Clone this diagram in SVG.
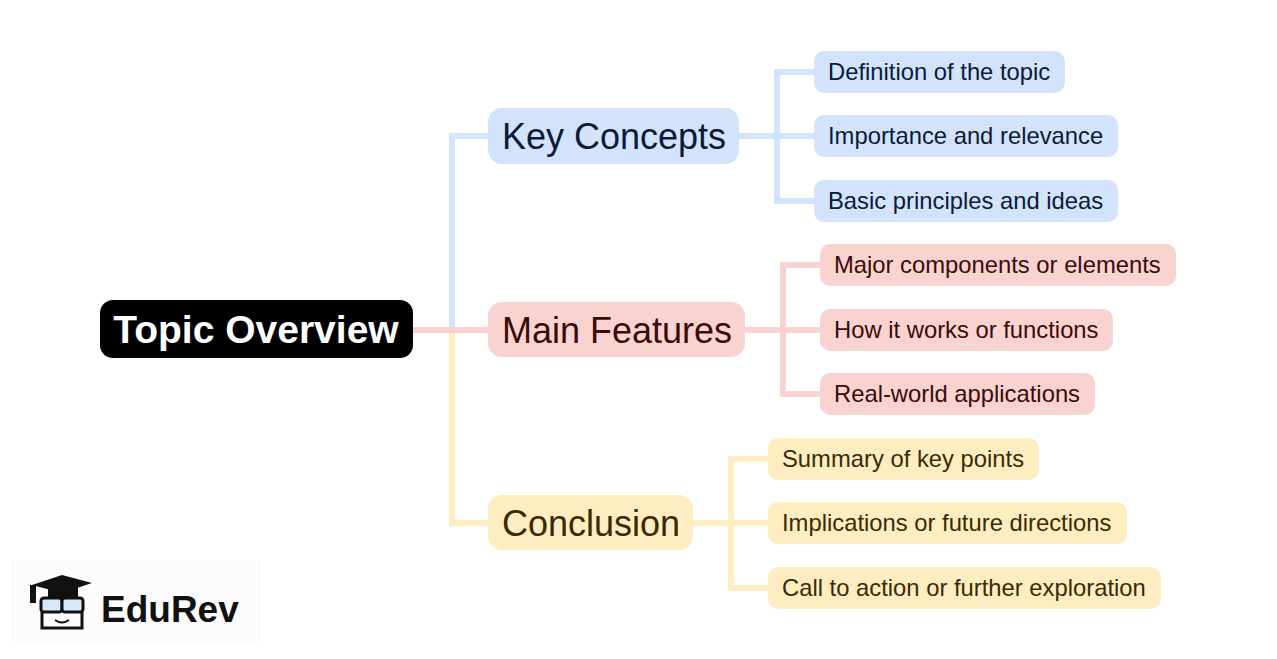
<svg xmlns="http://www.w3.org/2000/svg" width="1277" height="659" viewBox="0 0 1277 659">
<style>
.b{fill:#D3E3FC}.r{fill:#F9D3D0}.y{fill:#FDEDC0}
.lb{stroke:#D3E3FC}.lr{stroke:#F9D3D0}.ly{stroke:#FDEDC0}
line,polyline{stroke-width:6;fill:none}
text{font-family:"Liberation Sans",Arial,sans-serif}
.m{font-size:36px;text-anchor:middle}
.l{font-size:23.8px}
.tb{fill:#0B1A3A}.tr{fill:#3A0B0B}.ty{fill:#3A2A05}
</style>
<rect width="1277" height="659" fill="#fff"/>
<g id="connectors">
<polyline class="lb" points="488,136 452,136 452,330"/>
<polyline class="ly" points="452,330 452,523 488,523"/>
<line class="lr" x1="413" y1="330" x2="488" y2="330"/>
<polyline class="lb" points="814,72 777,72 777,201 814,201"/>
<line class="lb" x1="739" y1="136" x2="814" y2="136"/>
<polyline class="lr" points="820,265 783,265 783,394 820,394"/>
<line class="lr" x1="745" y1="330" x2="820" y2="330"/>
<polyline class="ly" points="768,459 731,459 731,588 768,588"/>
<line class="ly" x1="693" y1="523" x2="768" y2="523"/>
</g>
<g id="root"><rect x="100" y="300" width="313" height="58" rx="13" fill="#000"/><text x="256" y="343" font-size="39" font-weight="bold" fill="#fff" text-anchor="middle">Topic Overview</text></g>
<g id="key"><rect class="b" x="488" y="108" width="251" height="56" rx="14"/><text class="m tb" x="614" y="149">Key Concepts</text></g>
<g id="main"><rect class="r" x="488" y="302" width="257" height="55" rx="14"/><text class="m tr" x="617" y="343">Main Features</text></g>
<g id="concl"><rect class="y" x="488" y="495" width="205" height="55" rx="14"/><text class="m ty" x="591" y="536">Conclusion</text></g>
<g id="k1"><rect class="b" x="814" y="51" width="251" height="42" rx="10"/><text class="l tb" x="828" y="80">Definition of the topic</text></g>
<g id="k2"><rect class="b" x="814" y="115" width="304" height="42" rx="10"/><text class="l tb" x="828" y="144">Importance and relevance</text></g>
<g id="k3"><rect class="b" x="814" y="180" width="304" height="42" rx="10"/><text class="l tb" x="828" y="209">Basic principles and ideas</text></g>
<g id="m1"><rect class="r" x="820" y="244" width="356" height="42" rx="10"/><text class="l tr" x="834" y="273">Major components or elements</text></g>
<g id="m2"><rect class="r" x="820" y="309" width="293" height="42" rx="10"/><text class="l tr" x="834" y="338">How it works or functions</text></g>
<g id="m3"><rect class="r" x="820" y="373" width="275" height="42" rx="10"/><text class="l tr" x="834" y="402">Real-world applications</text></g>
<g id="c1"><rect class="y" x="768" y="438" width="271" height="42" rx="10"/><text class="l ty" x="782" y="467">Summary of key points</text></g>
<g id="c2"><rect class="y" x="768" y="502" width="359" height="42" rx="10"/><text class="l ty" x="782" y="531">Implications or future directions</text></g>
<g id="c3"><rect class="y" x="768" y="567" width="393" height="42" rx="10"/><text class="l ty" x="782" y="596">Call to action or further exploration</text></g>
<g id="logo">
<rect x="10" y="560" width="252" height="86" fill="#FCFCFC"/>
<polygon points="32,585 62,575 92,583 62,593" fill="#111"/>
<path d="M48,588 v10 h30 v-10" fill="#111"/>
<line x1="33" y1="585" x2="33" y2="603" stroke="#111" stroke-width="2"/>
<rect x="41" y="598" width="21" height="14" rx="3" fill="#D6E8F8" stroke="#111" stroke-width="3"/>
<rect x="62" y="598" width="21" height="14" rx="3" fill="#D6E8F8" stroke="#111" stroke-width="3"/>
<path d="M42,612 v16 h40 v-16" fill="none" stroke="#111" stroke-width="3"/>
<path d="M55,620 q7,5 14,0" fill="none" stroke="#111" stroke-width="2"/>
<text x="101" y="622" font-size="37" font-weight="bold" fill="#111" font-family="Lato,'Liberation Sans',sans-serif">EduRev</text>
</g>
</svg>
